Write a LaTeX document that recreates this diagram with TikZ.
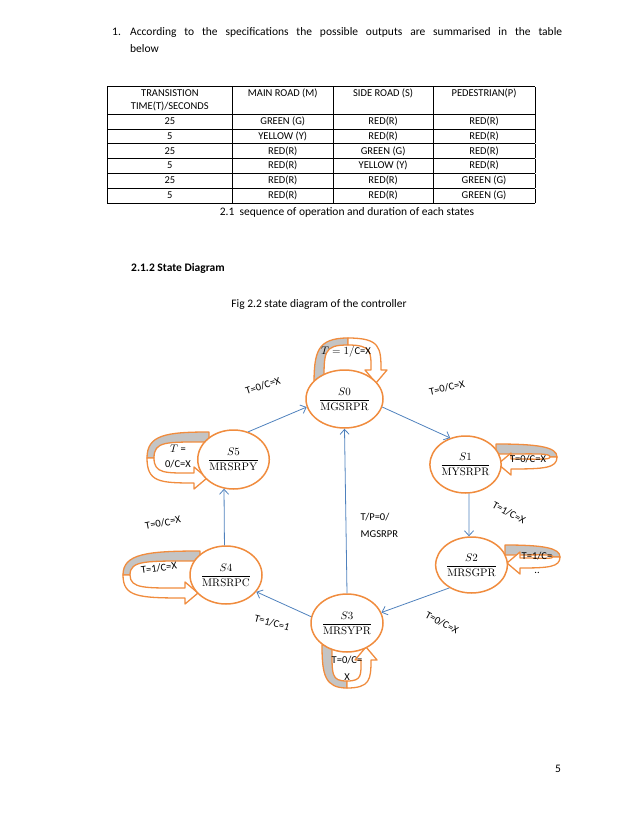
\documentclass[tikz,border=0pt]{standalone}
\usepackage[no-math]{fontspec}
\setmainfont{Carlito}
\usepackage{amsmath}
\usepackage{array}
\usetikzlibrary{arrows.meta,shapes.geometric}
\definecolor{stateorange}{RGB}{240,140,62}
\definecolor{arrowblue}{RGB}{79,129,189}
\definecolor{bandgray}{RGB}{196,196,196}
\newcolumntype{C}[1]{>{\centering\arraybackslash}p{#1}}

\begin{document}
\begin{tikzpicture}[x=1pt,y=-1pt,
  >={Straight Barb[length=5pt,width=9pt]},
  ctrlstate/.style={ellipse,draw=stateorange,fill=white,line width=1.5pt,
                    inner sep=0pt,font=\fontsize{10.5}{12}\selectfont},
  trans/.style={->,draw=arrowblue,line width=0.8pt},
  lbl/.style={font=\fontsize{10.5}{12}\selectfont,inner sep=0.5pt},
  bodytxt/.style={font=\fontsize{11.5}{17}\selectfont,inner sep=0pt},
  loopback/.style={draw=stateorange,fill=bandgray,line width=1.3pt,line join=round},
  loopfront/.style={draw=stateorange,fill=white,line width=1.3pt,line join=round},
  pics/selfloop/.style 2 args={code={
    \filldraw[loopback] (0,{-#2-6}) .. controls ({0.7*#1},{-#2-6}) and (#1,{-#2-3}) .. (#1,0)
      -- ({#1-7},0) .. controls ({#1-7},{-#2+3}) and ({0.7*#1},{-#2+4}) .. (0,{-#2+4}) -- cycle;
    \filldraw[loopfront] (#1,0) .. controls (#1,{#2+4}) and ({0.8*#1},{#2+5}) .. (15,{#2+5})
      -- (15,{#2+11}) -- (2,#2) -- (15,{#2-11}) -- (15,{#2-5})
      .. controls ({0.7*#1},{#2-5}) and ({#1-7},{#2-4}) .. ({#1-7},0) -- cycle;
  }}
]
\useasboundingbox (0,0) rectangle (638,826);
%% Text
\node[bodytxt,anchor=base west] (num) at (112,36) {1.};
\node[bodytxt,anchor=base west] (intro1) at (130,36)
  {\makebox[432pt][s]{According to the specifications the possible outputs are summarised in the table}};
\node[bodytxt,anchor=base west] (intro2) at (130,53) {below};
\node[anchor=north west,inner sep=0pt,font=\fontsize{10.5}{12.6}\selectfont] (tab) at (107,86)
  {\renewcommand\arraystretch{1.15}\setlength\tabcolsep{0pt}%
   \begin{tabular}{|C{124.5pt}|C{100.5pt}|C{99.5pt}|C{101.5pt}|}
   \hline
   TRANSISTION\par TIME(T)/SECONDS & MAIN ROAD (M) & SIDE ROAD (S) & PEDESTRIAN(P)\\ \hline
   25 & GREEN (G) & RED(R) & RED(R)\\ \hline
   5 & YELLOW (Y) & RED(R) & RED(R)\\ \hline
   25 & RED(R) & GREEN (G) & RED(R)\\ \hline
   5 & RED(R) & YELLOW (Y) & RED(R)\\ \hline
   25 & RED(R) & RED(R) & GREEN (G)\\ \hline
   5 & RED(R) & RED(R) & GREEN (G)\\ \hline
   \end{tabular}};
\node[bodytxt,anchor=base] (tabcap) at (347,215) {2.1\ \ sequence of operation and duration of each states};
\node[bodytxt,anchor=base west,font=\fontsize{11.5}{17}\selectfont\bfseries] (head) at (131,271) {2.1.2 State Diagram};
\node[bodytxt,anchor=base] (figcap) at (319,307) {Fig 2.2 state diagram of the controller};
\node[bodytxt,anchor=base] (page) at (558,772) {5};
%% Self loops
\begin{scope}[shift={(348,385)},x={(0pt,1pt)},y={(1pt,0pt)}] \pic {selfloop={47}{28}}; \end{scope}
\begin{scope}[shift={(496,457)}] \pic {selfloop={61}{7}}; \end{scope}
\begin{scope}[shift={(505,557)}] \pic {selfloop={55}{6}}; \end{scope}
\begin{scope}[shift={(347,645)},x={(0pt,-1pt)},y={(1pt,0pt)}] \pic {selfloop={43}{19}}; \end{scope}
\begin{scope}[shift={(200,575)},x={(-1pt,0pt)},y={(0pt,-1pt)}] \pic {selfloop={77}{18}}; \end{scope}
\begin{scope}[shift={(209,458)},x={(-1pt,0pt)},y={(0pt,-1pt)}] \pic {selfloop={62}{20}}; \end{scope}
%% States
\node[ctrlstate,minimum width=77pt,minimum height=58pt] (S0) at (344.5,399) {$\dfrac{S0}{\mathrm{MGSRPR}}$};
\node[ctrlstate,minimum width=69pt,minimum height=57pt] (S1) at (465.5,464.5) {$\dfrac{S1}{\mathrm{MYSRPR}}$};
\node[ctrlstate,minimum width=71pt,minimum height=56pt] (S2) at (471.5,565) {$\dfrac{S2}{\mathrm{MRSGPR}}$};
\node[ctrlstate,minimum width=72pt,minimum height=58pt] (S3) at (347,623) {$\dfrac{S3}{\mathrm{MRSYPR}}$};
\node[ctrlstate,minimum width=72pt,minimum height=58pt] (S4) at (226,575) {$\dfrac{S4}{\mathrm{MRSRPC}}$};
\node[ctrlstate,minimum width=67pt,minimum height=59pt] (S5) at (233.5,459.5) {$\dfrac{S5}{\mathrm{MRSRPY}}$};
%% Transitions
\draw[trans] (S5.62)  -- (S0.192);
\draw[trans] (S0.348) -- (S1.120);
\draw[trans] (S1.277) -- (S2.95);
\draw[trans] (S2.226) -- (S3.17);
\draw[trans] (S3.north) -- (S0.south);
\draw[trans] (S3.170) -- (S4.331);
\draw[trans] (S4.93)  -- (S5.252);
%% Labels
\node[lbl,rotate=18]  (l50) at (263,386) {T=0/C=X};
\node[lbl,rotate=12]  (l01) at (447,388) {T=0/C=X};
\node[lbl,rotate=-28] (l12) at (509,513) {T=1/C=X};
\node[lbl,rotate=-28] (l23) at (442,623) {T=0/C=X};
\node[lbl,align=left,anchor=north west,font=\fontsize{10.5}{16.5}\selectfont] (l30) at (360,513) {T/P=0/\\MGSRPR};
\node[lbl,rotate=-15] (l34) at (272,623) {T=1/C=1};
\node[lbl,rotate=11]  (l45) at (163,523) {T=0/C=X};
\node[lbl] (l00) at (346,352) {$T = 1/$C=X};
\node[lbl] (l11) at (528,459) {T=0/C=X};
\node[lbl,align=center,font=\fontsize{10.5}{14}\selectfont] (l22) at (537,563) {T=1/C=\\..};
\node[lbl,align=center,font=\fontsize{10.5}{17}\selectfont] (l33) at (347,668) {T=0/C=\\X};
\node[lbl,rotate=8] (l44) at (159,568) {T=1/C=X};
\node[lbl,align=center,font=\fontsize{10.5}{15}\selectfont] (l55) at (178,456) {$T$ =\\0/C=X};
\end{tikzpicture}
\end{document}
